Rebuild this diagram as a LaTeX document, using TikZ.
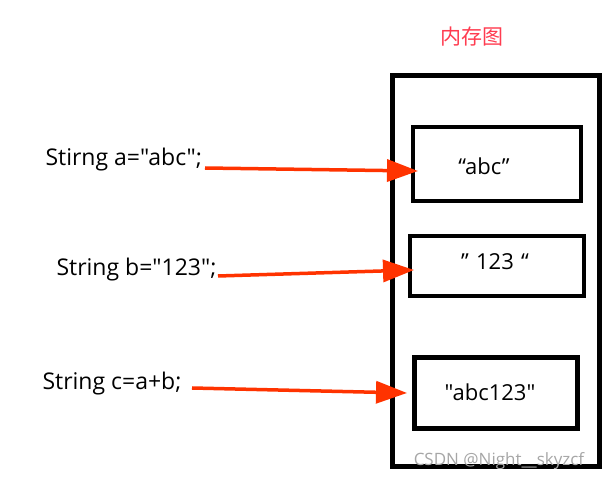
\documentclass[tikz,border=0pt]{standalone}
\usepackage{fontspec}
\setmainfont{Open Sans}[Ligatures=TeXOff]
\newfontfamily\cjk{Noto Sans CJK SC}
\usetikzlibrary{positioning}
\usetikzlibrary{arrows.meta}
\definecolor{arrowred}{RGB}{255,51,0}
\definecolor{titlered}{RGB}{255,60,80}

\begin{document}
\begin{tikzpicture}[x=1pt,y=-1pt,
  code/.style={anchor=west,font=\fontsize{23}{26}\selectfont},
  cell/.style={draw,line width=4.5pt,inner sep=0pt},
  val/.style={font=\fontsize{22}{26}\selectfont},
  ptr/.style={arrowred,line width=3.5pt,-{Triangle[length=31pt,width=22pt]}}]
  \useasboundingbox (0,0) rectangle (606,481);
  \node(title) [text=titlered,font=\cjk\fontsize{21}{24}\selectfont] at (472,37) {内存图};
  \node(mem) [cell,minimum width=207pt,minimum height=391pt] at (496,271) {};
  \node(box1) [cell,minimum width=168pt,minimum height=74pt] at (497,164) {};
  \node(box2) [cell,minimum width=174pt,minimum height=60pt] at (497,266) {};
  \node(box3) [cell,minimum width=163pt,minimum height=71pt] at (496,393) {};
  \node(v1) [val] at (484,166) {“abc”};
  \node(v2) [val] at (495,262) {”\,\,123\,\,“};
  \node(v3) [val] at (490,392) {"abc123"};
  \node(a) [code] at (42,160) {Stirng a="abc";};
  \node(b) [code] at (53,270) {String b="123";};
  \node(c) [code] at (39,384) {String c=a+b;};
  \coordinate (a0) at (205,168);
  \coordinate (a1) at (418,171);
  \coordinate (b0) at (218,276);
  \coordinate (b1) at (414,270);
  \coordinate (c0) at (192,388);
  \coordinate (c1) at (407,393);
  \draw[ptr] (a0) -- (a1);
  \draw[ptr] (b0) -- (b1);
  \draw[ptr] (c0) -- (c1);
  \node(mark) [text=black!35,font=\fontsize{17}{20}\selectfont] at (499,461) {CSDN @Night\_\_skyzcf};
\end{tikzpicture}
\end{document}
